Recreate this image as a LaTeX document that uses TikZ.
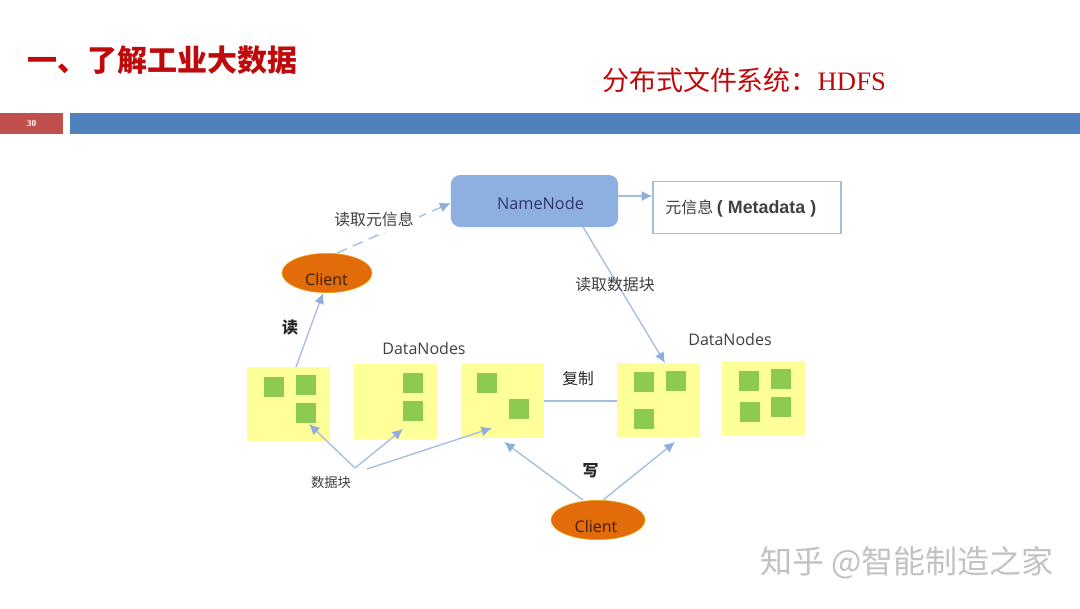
\documentclass[tikz,border=0pt]{standalone}
\usepackage{fontspec}
\setmainfont{Liberation Sans}
\newfontfamily\cjk{Noto Sans CJK SC}
\newfontfamily\hfont{Liberation Serif}
\newfontfamily\lat{Open Sans}
\usetikzlibrary{arrows.meta,calc,shapes.geometric}
\definecolor{linec}{HTML}{A4BEDC}
\definecolor{tipc}{HTML}{8FAEDB}
\definecolor{nnfill}{HTML}{8DB0E0}
\definecolor{orangec}{HTML}{E36C0A}
\definecolor{yel}{HTML}{FFFF99}
\definecolor{grn}{HTML}{8CCB50}
\definecolor{redt}{HTML}{BE0A0A}
\definecolor{txt}{HTML}{404040}
\definecolor{pagebox}{RGB}{192,80,77}
\definecolor{barblue}{RGB}{79,129,189}
\tikzset{
  x=0.75pt,y=-0.75pt,
  conn/.style={draw=linec,line width=1pt,-{Latex[length=8pt,width=7.5pt,color=tipc]}},
  plain/.style={draw=linec,line width=.8pt},
  dn/.style={fill=yel,inner sep=0pt,anchor=north west,minimum width=62.25pt,minimum height=56pt},
  blk/.style={fill=grn,minimum width=15pt,minimum height=15pt,inner sep=0pt,anchor=north west},
  cli/.style={ellipse,fill=orangec,draw=orangec!60!yellow,line width=.4pt,inner sep=0pt,minimum width=67.5pt,minimum height=29.5pt},
  clit/.style={font=\lat\fontsize{12pt}{14pt}\selectfont,text=black!72!orangec,inner sep=0pt},
  lbl/.style={font=\cjk\fontsize{11.9pt}{14pt}\selectfont,text=txt,inner sep=0pt},
  blbl/.style={font=\cjk\bfseries\fontsize{12pt}{14pt}\selectfont,text=black!85,inner sep=0pt},
  dnl/.style={font=\lat\fontsize{12pt}{14pt}\selectfont,text=txt,inner sep=0pt}
}
\begin{document}
\begin{tikzpicture}
\useasboundingbox (0,0) rectangle (1080,608);
\fill[white] (0,0) rectangle (1080,608);
% header
\node[font=\cjk\bfseries\fontsize{22.5pt}{26pt}\selectfont,text=redt,anchor=west,inner sep=0pt] (title) at (27,60) {一、了解工业大数据};
\node[font=\cjk\fontsize{20.2pt}{24pt}\selectfont,text=redt,anchor=west,inner sep=0pt] (sub) at (602,80.5) {分布式文件系统：{\hfont\fontsize{20pt}{24pt}\selectfont HDFS}};
\fill[pagebox] (0,113) rectangle (63,134);
\fill[barblue] (70,113) rectangle (1080,134);
\node[font=\hfont\bfseries\fontsize{7pt}{8pt}\selectfont,text=white,inner sep=0pt] (pg) at (31.5,123) {30};
% top nodes
\node[rounded corners=7pt,fill=nnfill,minimum width=125.5pt,minimum height=39pt,inner sep=0pt] (nn) at (534.5,201) {};
\node[font=\lat\fontsize{12.2pt}{14pt}\selectfont,text=black!65!blue!60!gray,inner sep=0pt] (nnt) at (540.5,203) {NameNode};
\node[draw=linec,fill=white,line width=1pt,minimum width=141pt,minimum height=39pt,inner sep=0pt] (meta) at (747,207.5) {};
\node[anchor=west,inner sep=0pt,text=txt] (metat) at (665,208.5) {{\cjk\fontsize{12pt}{14pt}\selectfont 元信息} {\bfseries\fontsize{13.4pt}{15pt}\selectfont ( Metadata )}};
\node[cli] (c1) at (327,273) {};
\node[clit] (c1t) at (326.5,279) {Client};
\node[cli,minimum width=70.5pt] (c2) at (598,520) {};
\node[clit] (c2t) at (596,526) {Client};
% data nodes
\node[dn] (d1) at (247,366.5) {};
\node[dn] (d2) at (354,364) {};
\node[dn] (d3) at (460.5,363) {};
\node[dn] (d4) at (617,362.5) {};
\node[dn] (d5) at (722,361) {};
% blocks
\node[blk] (b11) at (263.5,377) {};
\node[blk] (b12) at (295.5,375) {};
\node[blk] (b13) at (295.5,403) {};
\node[blk] (b21) at (403,373) {};
\node[blk] (b22) at (403,401) {};
\node[blk] (b31) at (477,373) {};
\node[blk] (b32) at (509,399) {};
\node[blk] (b41) at (633.5,372) {};
\node[blk] (b42) at (665.5,371) {};
\node[blk] (b43) at (633.5,409) {};
\node[blk] (b51) at (738.5,371) {};
\node[blk] (b52) at (770.5,369) {};
\node[blk] (b53) at (739.5,402) {};
\node[blk] (b54) at (770.5,397) {};
% anchors for free ends
\coordinate (h1) at (355,468);
\coordinate (h2) at (367,469);
\coordinate (t1) at (309,424);
\coordinate (t2) at (403,429);
\coordinate (t3) at (492,428);
\coordinate (t4) at (504,442);
\coordinate (t5) at (675,442);
% connectors
\draw[conn,dashed,dash pattern=on 8pt off 5pt] ($(c1.north)+(10,0)$) -- ($(nn.west)+(0,2)$);
\draw[conn] (296,367) -- (323,293);
\draw[conn] (nn.east |- 0,196) -- (meta.west |- 0,196);
\draw[conn] (583,227) -- (665,363);
\draw[plain] (d3.east |- 0,401) -- (d4.west |- 0,401);
\draw[conn] (h1) -- (t1);
\draw[conn] (h1) -- (t2);
\draw[conn] (h2) -- (t3);
\draw[conn] (583,500) -- (t4);
\draw[conn] (603,500) -- (t5);
% labels
\node[lbl,fill=white,inner sep=4pt] (l1) at (374,219) {读取元信息};
\node[lbl] (l2) at (615,284) {读取数据块};
\node[blbl] (l3) at (290,327) {读};
\node[blbl] (l4) at (590.5,470.5) {写};
\node[blbl,font=\cjk\fontsize{11.8pt}{14pt}\selectfont] (l5) at (578,379) {复制};
\node[lbl,font=\cjk\fontsize{10pt}{12pt}\selectfont] (l6) at (331,482.5) {数据块};
\node[dnl] (l7) at (424,348) {DataNodes};
\node[dnl] (l8) at (730,339) {DataNodes};
% watermark
\node[font=\cjk\fontsize{24pt}{28pt}\selectfont,text=black!24,anchor=west,inner sep=0pt] (wm) at (760,563) {知乎 @智能制造之家};
\end{tikzpicture}
\end{document}
